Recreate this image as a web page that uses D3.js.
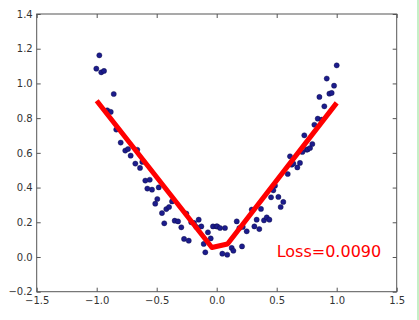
<!DOCTYPE html>
<html><head><meta charset="utf-8">
<script src="https://cdn.jsdelivr.net/npm/d3@7"></script>
<style>html,body{margin:0;padding:0;background:#fff;}svg{display:block;font-family:"DejaVu Sans",sans-serif;}</style>
</head><body>
<svg id="c" width="419" height="320"></svg>
<script>
const pointsX = [-1.003,-0.978,-0.962,-0.939,-0.912,-0.883,-0.858,-0.837,-0.8,-0.762,-0.739,-0.717,-0.678,-0.662,-0.639,-0.62,-0.595,-0.578,-0.558,-0.539,-0.512,-0.495,-0.483,-0.456,-0.437,-0.42,-0.397,-0.372,-0.35,-0.322,-0.295,-0.272,-0.253,-0.233,-0.212,-0.189,-0.17,-0.15,-0.128,-0.108,-0.095,-0.073,-0.05,-0.031,-0.003,0.005,0.028,0.047,0.069,0.088,0.125,0.139,0.167,0.189,0.211,0.217,0.25,0.292,0.314,0.333,0.355,0.369,0.394,0.417,0.439,0.453,0.472,0.486,0.514,0.533,0.555,0.592,0.611,0.625,0.639,0.672,0.694,0.7,0.714,0.73,0.75,0.758,0.778,0.797,0.814,0.842,0.856,0.875,0.897,0.917,0.939,0.958,0.978,1.0];
const pointsY = [1.085,1.162,1.064,1.072,0.845,0.836,0.939,0.734,0.659,0.613,0.622,0.584,0.538,0.618,0.513,0.548,0.44,0.394,0.445,0.388,0.307,0.334,0.401,0.253,0.194,0.276,0.288,0.32,0.209,0.205,0.171,0.104,0.25,0.094,0.2,0.196,0.173,0.215,0.176,0.075,0.027,0.142,0.107,0.176,0.176,0.176,0.167,0.019,0.167,0.013,0.052,0.036,0.205,0.167,0.061,0.173,0.148,0.273,0.176,0.215,0.161,0.277,0.211,0.228,0.215,0.344,0.384,0.411,0.346,0.288,0.317,0.478,0.58,0.532,0.538,0.516,0.542,0.609,0.605,0.701,0.618,0.62,0.628,0.651,0.762,0.797,0.922,0.791,0.868,1.028,0.941,0.945,0.987,1.104];
const lineX = [-1.0,-0.04,0.09,1.0];
const lineY = [0.90,0.055,0.075,0.888];
const xTicks = [-1.5,-1.0,-0.5,0.0,0.5,1.0,1.5];
const yTicks = [-0.2,0.0,0.2,0.4,0.6,0.8,1.0,1.2,1.4];
const lossLabel = "Loss=0.0090";

const svg = d3.select("#c");
const L=36.7,R=396.7,T=14,B=291.7;
const x = d3.scaleLinear().domain([-1.5,1.5]).range([L,R]);
const y = d3.scaleLinear().domain([-0.2,1.4]).range([B,T]);
const fmt = d3.format(".1f");

svg.append("rect").attr("x",417).attr("y",0).attr("width",2).attr("height",320).attr("fill","#c6efc6");

const pts = pointsX.map((d,i)=>[d,pointsY[i]]);
svg.append("g").selectAll("circle").data(pts).join("circle")
  .attr("cx",d=>x(d[0])).attr("cy",d=>y(d[1])).attr("r",2.6)
  .attr("fill","#1c1c8c").attr("stroke","#0a0a40").attr("stroke-width",0.4);

const ln = lineX.map((d,i)=>[d,lineY[i]]);
svg.append("path").datum(ln).attr("d",d3.line().x(d=>x(d[0])).y(d=>y(d[1])))
  .attr("fill","none").attr("stroke","#ff0000").attr("stroke-width",5).attr("stroke-linejoin","round");

function style(g){
  g.selectAll(".domain").remove();
  g.selectAll(".tick line").attr("stroke","#555");
  g.selectAll(".tick text").attr("fill","#333").attr("font-size","10px").attr("font-family","DejaVu Sans");
}
svg.append("g").attr("transform",`translate(0,${B})`)
  .call(d3.axisBottom(x).tickValues(xTicks).tickFormat(fmt).tickSizeInner(-4).tickSizeOuter(0).tickPadding(5)).call(style);
svg.append("g").attr("transform",`translate(0,${T})`)
  .call(d3.axisTop(x).tickValues(xTicks).tickFormat("").tickSizeInner(-4).tickSizeOuter(0)).call(style);
svg.append("g").attr("transform",`translate(${L},0)`)
  .call(d3.axisLeft(y).tickValues(yTicks).tickFormat(fmt).tickSizeInner(-4).tickSizeOuter(0).tickPadding(4)).call(style);
svg.append("g").attr("transform",`translate(${R},0)`)
  .call(d3.axisRight(y).tickValues(yTicks).tickFormat("").tickSizeInner(-4).tickSizeOuter(0)).call(style);

svg.append("rect").attr("x",L).attr("y",T).attr("width",R-L).attr("height",B-T)
  .attr("fill","none").attr("stroke","#555").attr("stroke-width",1);

svg.append("text").attr("x",x(0.5)).attr("y",y(0)).text(lossLabel)
  .attr("fill","#ff0000").attr("font-size","16px").attr("font-family","DejaVu Sans");
</script>
</body></html>
